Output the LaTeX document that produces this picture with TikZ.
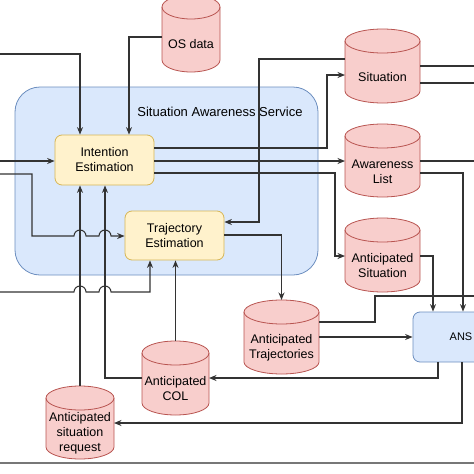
\documentclass[tikz,border=0pt]{standalone}
\usepackage{fontspec}
\setmainfont{Liberation Sans}
\usetikzlibrary{arrows.meta, positioning, calc}
\definecolor{boxblue}{HTML}{DAE8FC}
\definecolor{edgeblue}{HTML}{6C8EBF}
\definecolor{boxyellow}{HTML}{FFF2CC}
\definecolor{edgeyellow}{HTML}{D6B656}
\definecolor{drumred}{HTML}{F8CECC}
\definecolor{edgered}{HTML}{B85450}
\definecolor{linegray}{HTML}{333333}
\definecolor{framegray}{HTML}{777777}

% data store: name, left, top, right, bottom, text
\newcommand{\drum}[6]{%
  \path[drumbody] (#2,#3+12) -- (#2,#5-12)
    arc[start angle=180, end angle=0, x radius={(#4-#2)/2}, y radius=12]
    -- (#4,#3+12)
    arc[start angle=0, end angle=-180, x radius={(#4-#2)/2}, y radius=12] -- cycle;
  \draw[drumedge] (#2,#3+12)
    arc[start angle=180, end angle=0, x radius={(#4-#2)/2}, y radius=12];
  \node[drumbox, minimum width={(#4-#2)*1pt}, minimum height={(#5-(#3))*1pt}]
    (#1) at ({(#2+#4)/2},{(#3+#5)/2}) {};
  \node[drumtext] (#1-txt) at ({(#2+#4)/2},{(#3+24+#5)/2-1}) {#6};
}

\begin{document}
\begin{tikzpicture}[
    x=1pt, y=-1pt,
    font=\fontsize{12.5}{15}\selectfont,
    service/.style={draw=edgeblue, fill=boxblue, rounded corners=25pt, line width=0.8pt, inner sep=0pt},
    process/.style={draw=edgeyellow, fill=boxyellow, rounded corners=7pt, line width=0.8pt, align=center, inner sep=0pt},
    ansbox/.style={draw=edgeblue, fill=boxblue, rounded corners=7pt, line width=0.8pt, inner sep=0pt,
        font=\fontsize{11}{13}\selectfont},
    drumbody/.style={draw=edgered, fill=drumred, line width=0.8pt},
    drumedge/.style={draw=edgered, line width=0.8pt},
    drumbox/.style={inner sep=0pt, outer sep=0pt},
    drumtext/.style={align=center, inner sep=0pt},
    flow/.style={draw=linegray, line width=1.05pt, -{Stealth[length=7.5pt, width=6pt]}},
    wire/.style={draw=linegray, line width=1.05pt},
    frame/.style={draw=framegray, line width=1.5pt},
]
\clip (0,0) rectangle (474,474);

% Situation Awareness Service
\node[service, minimum width=303pt, minimum height=188pt] (sas) at (166.5,181) {};
\node[font=\fontsize{13}{15}\selectfont] (saslabel) at (220,112) {Situation Awareness Service};

% Estimation blocks
\node[process, minimum width=99pt, minimum height=50pt] (int) at (104.5,160) {Intention\\Estimation};
\node[process, minimum width=99pt, minimum height=49pt] (traj) at (174.5,235.5) {Trajectory\\Estimation};

% ANS
\node[ansbox, minimum width=96pt, minimum height=50pt] (ans) at (461,337) {ANS};

% Data stores
\drum{os}{162}{-5}{220}{72}{OS data}
\drum{sit}{345}{29}{420}{103}{Situation}
\drum{awl}{345}{124}{420}{197}{Awareness\\List}
\drum{ants}{345}{218}{420}{292}{Anticipated\\Situation}
\drum{antt}{244}{300}{319}{374}{Anticipated\\Trajectories}
\drum{col}{142}{341}{209}{415}{Anticipated\\COL}
\drum{req}{46}{386}{114}{459}{Anticipated\\situation\\request}

% Free ends at the picture border
\coordinate (inA) at (0,54);
\coordinate (inB) at (0,161);
\coordinate (inC) at (0,174);
\coordinate (inD) at (0,292);
\coordinate (outA) at (474,66);
\coordinate (outB) at (474,83);
\coordinate (outC) at (474,161);
\coordinate (outD) at (474,296);
\coordinate (frameL) at (0,463);
\coordinate (frameR) at (474,463);

% Inputs of the estimation blocks
\draw[flow] (inA) -| (int.north -| 80,0);
\draw[flow] (os.west |- 0,37) -| (int.north -| 129,0);
\draw[flow] (inB) -- (int.west |- inB);
\draw[flow] (inC) -- (32,174) -- (32,236) -- (74,236)
    arc[start angle=180, end angle=360, radius=6] -- (99,236)
    arc[start angle=180, end angle=360, radius=6] -- (traj.west |- 0,236);
\draw[flow] (inD) -- (74,292)
    arc[start angle=180, end angle=360, radius=6] -- (99,292)
    arc[start angle=180, end angle=360, radius=6] -| (traj.south -| 150,0);
\draw[flow] (req.north) -- (int.south -| req.north);
\draw[flow] (col.west |- 0,378) -| (int.south -| 105,0);
\draw[flow] (col.north) -- (traj.south -| col.north);
\draw[flow] (sit.west |- 0,59) -| (259,222) -- (traj.east |- 0,222);

% Outputs of the estimation blocks
\draw[flow] (int.east |- 0,148) -| (327,75) -- (sit.west |- 0,75);
\draw[flow] (int.east |- 0,161) -- (awl.west |- 0,161);
\draw[flow] (int.east |- 0,173) -| (335,256) -- (ants.west |- 0,256);
\draw[flow] (traj.east |- 0,235) -| (antt.north);

% Stores to ANS and onwards
\draw[flow] (antt.east |- 0,337) -- (ans.west |- 0,337);
\draw[wire] (antt.east |- 0,322) -| (375,296) -- (outD);
\draw[flow] (ants.east |- 0,256) -| (ans.north -| 433,0);
\draw[flow] (awl.east |- 0,173) -| (ans.north -| 463,0);
\draw[wire] (awl.east |- 0,161) -- (outC);
\draw[wire] (sit.east |- 0,66) -- (outA);
\draw[wire] (sit.east |- 0,83) -- (outB);

% ANS feedback
\draw[flow] (ans.south -| 438,0) |- (col.east |- 0,378);
\draw[flow] (ans.south -| 462,0) |- (req.east |- 0,423);

% Bottom border
\draw[frame] (frameL) -- (frameR);

\end{tikzpicture}
\end{document}
